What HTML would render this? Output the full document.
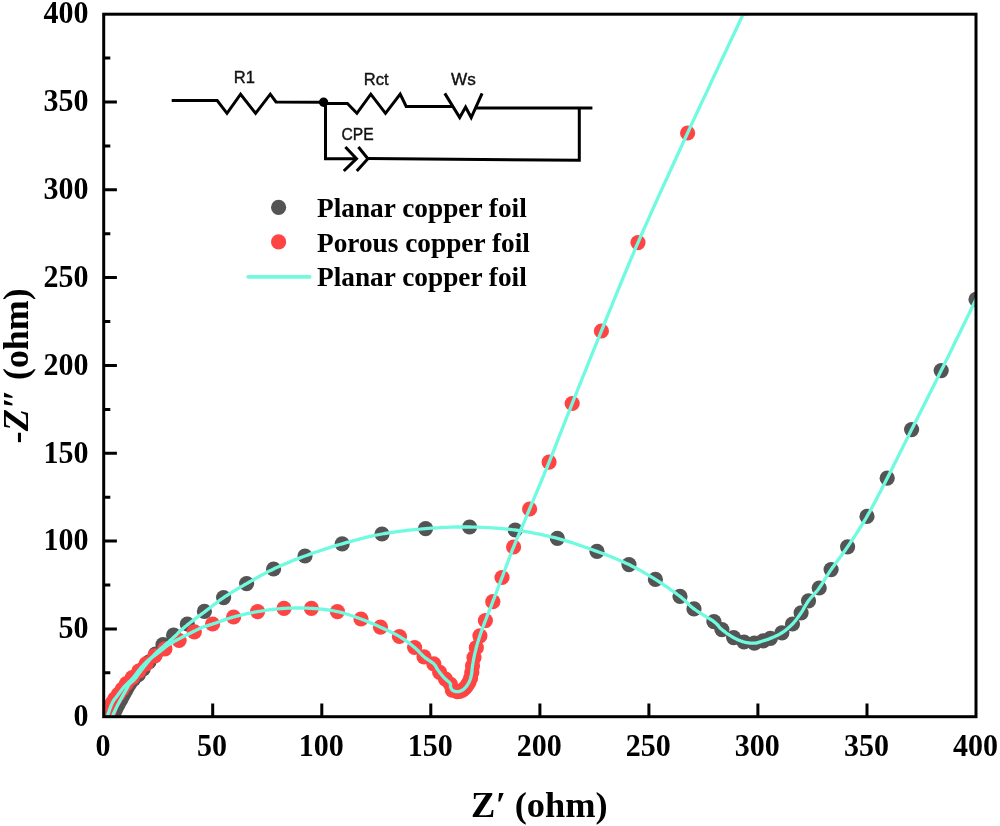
<!DOCTYPE html>
<html lang="en"><head><meta charset="utf-8"><title>Nyquist plot</title>
<style>html,body{margin:0;padding:0;background:#fff}svg{display:block}</style></head>
<body>
<svg width="1000" height="826" viewBox="0 0 1000 826">
<defs><clipPath id="pc"><rect x="103.7" y="14.2" width="872.3" height="702.5"/></clipPath></defs>
<rect width="1000" height="826" fill="#ffffff"/>
<g clip-path="url(#pc)">
<g fill="#545454"><circle cx="111.3" cy="718.5" r="7.6"/><circle cx="112.6" cy="715.8" r="7.6"/><circle cx="113.8" cy="713.1" r="7.6"/><circle cx="115.1" cy="710.3" r="7.6"/><circle cx="116.4" cy="707.6" r="7.6"/><circle cx="117.7" cy="704.9" r="7.6"/><circle cx="119.1" cy="702.3" r="7.6"/><circle cx="120.6" cy="699.7" r="7.6"/><circle cx="122.0" cy="697.0" r="7.6"/><circle cx="123.5" cy="694.3" r="7.6"/><circle cx="125.3" cy="691.2" r="7.6"/><circle cx="127.3" cy="687.6" r="7.6"/><circle cx="129.9" cy="683.4" r="7.6"/><circle cx="133.5" cy="679.1" r="7.6"/><circle cx="138.3" cy="674.7" r="7.6"/><circle cx="143.2" cy="668.8" r="7.6"/><circle cx="148.9" cy="662.0" r="7.6"/><circle cx="155.5" cy="654.1" r="7.6"/><circle cx="163.0" cy="644.7" r="7.6"/><circle cx="173.6" cy="635.2" r="7.6"/><circle cx="187.3" cy="624.0" r="7.6"/><circle cx="204.4" cy="611.4" r="7.6"/><circle cx="223.6" cy="597.6" r="7.6"/><circle cx="246.6" cy="583.6" r="7.6"/><circle cx="273.6" cy="569.0" r="7.6"/><circle cx="305.0" cy="556.0" r="7.6"/><circle cx="342.2" cy="543.8" r="7.6"/><circle cx="382.0" cy="534.0" r="7.6"/><circle cx="425.6" cy="528.6" r="7.6"/><circle cx="469.6" cy="527.0" r="7.6"/><circle cx="515.2" cy="530.0" r="7.6"/><circle cx="557.4" cy="538.4" r="7.6"/><circle cx="597.0" cy="551.4" r="7.6"/><circle cx="629.0" cy="564.6" r="7.6"/><circle cx="655.4" cy="579.4" r="7.6"/><circle cx="680.0" cy="596.4" r="7.6"/><circle cx="694.0" cy="608.9" r="7.6"/><circle cx="713.9" cy="621.6" r="7.6"/><circle cx="721.9" cy="629.6" r="7.6"/><circle cx="733.6" cy="637.6" r="7.6"/><circle cx="744.0" cy="642.0" r="7.6"/><circle cx="754.4" cy="643.2" r="7.6"/><circle cx="763.2" cy="640.8" r="7.6"/><circle cx="770.4" cy="638.4" r="7.6"/><circle cx="781.9" cy="632.8" r="7.6"/><circle cx="792.5" cy="624.0" r="7.6"/><circle cx="801.1" cy="612.8" r="7.6"/><circle cx="808.5" cy="600.8" r="7.6"/><circle cx="819.2" cy="588.0" r="7.6"/><circle cx="831.1" cy="569.6" r="7.6"/><circle cx="847.6" cy="546.8" r="7.6"/><circle cx="867.0" cy="516.4" r="7.6"/><circle cx="887.2" cy="478.2" r="7.6"/><circle cx="911.6" cy="429.6" r="7.6"/><circle cx="941.2" cy="370.6" r="7.6"/><circle cx="976.0" cy="299.4" r="7.6"/></g>
<g fill="#FF4444"><circle cx="106.1" cy="719.1" r="7.6"/><circle cx="107.1" cy="716.7" r="7.6"/><circle cx="108.2" cy="713.9" r="7.6"/><circle cx="109.3" cy="710.7" r="7.6"/><circle cx="110.5" cy="707.1" r="7.6"/><circle cx="112.2" cy="703.1" r="7.6"/><circle cx="114.9" cy="698.9" r="7.6"/><circle cx="118.3" cy="694.4" r="7.6"/><circle cx="122.1" cy="689.3" r="7.6"/><circle cx="126.5" cy="683.5" r="7.6"/><circle cx="132.3" cy="677.7" r="7.6"/><circle cx="138.8" cy="671.1" r="7.6"/><circle cx="146.1" cy="663.9" r="7.6"/><circle cx="154.8" cy="655.9" r="7.6"/><circle cx="164.9" cy="648.9" r="7.6"/><circle cx="179.1" cy="640.5" r="7.6"/><circle cx="194.3" cy="631.8" r="7.6"/><circle cx="212.6" cy="624.0" r="7.6"/><circle cx="233.6" cy="617.0" r="7.6"/><circle cx="257.6" cy="611.6" r="7.6"/><circle cx="284.0" cy="608.4" r="7.6"/><circle cx="311.4" cy="608.4" r="7.6"/><circle cx="337.4" cy="611.6" r="7.6"/><circle cx="361.0" cy="619.0" r="7.6"/><circle cx="380.5" cy="627.2" r="7.6"/><circle cx="399.4" cy="636.5" r="7.6"/><circle cx="414.6" cy="647.5" r="7.6"/><circle cx="424.0" cy="656.8" r="7.6"/><circle cx="433.8" cy="663.8" r="7.6"/><circle cx="439.7" cy="672.4" r="7.6"/><circle cx="445.5" cy="679.1" r="7.6"/><circle cx="450.5" cy="684.4" r="7.6"/><circle cx="452.3" cy="690.1" r="7.6"/><circle cx="457.2" cy="691.7" r="7.6"/><circle cx="459.6" cy="691.3" r="7.6"/><circle cx="462.5" cy="690.1" r="7.6"/><circle cx="465.0" cy="688.0" r="7.6"/><circle cx="467.0" cy="685.5" r="7.6"/><circle cx="468.9" cy="682.3" r="7.6"/><circle cx="470.6" cy="678.0" r="7.6"/><circle cx="471.8" cy="672.6" r="7.6"/><circle cx="472.5" cy="665.8" r="7.6"/><circle cx="474.0" cy="657.6" r="7.6"/><circle cx="476.3" cy="647.7" r="7.6"/><circle cx="479.9" cy="635.8" r="7.6"/><circle cx="485.4" cy="620.6" r="7.6"/><circle cx="492.8" cy="601.7" r="7.6"/><circle cx="502.0" cy="577.5" r="7.6"/><circle cx="513.6" cy="547.0" r="7.6"/><circle cx="529.6" cy="509.0" r="7.6"/><circle cx="549.1" cy="462.1" r="7.6"/><circle cx="572.2" cy="403.5" r="7.6"/><circle cx="601.4" cy="331.0" r="7.6"/><circle cx="638.0" cy="242.6" r="7.6"/><circle cx="687.6" cy="133.0" r="7.6"/><circle cx="746.0" cy="8.0" r="7.6"/></g>
<polyline points="109.7,722.0 109.9,721.5 110.2,721.0 110.4,720.5 110.6,720.0 110.9,719.4 111.1,718.9 111.4,718.4 111.6,717.9 111.8,717.4 112.1,716.9 112.3,716.4 112.5,715.9 112.8,715.4 113.0,714.9 113.2,714.4 113.4,714.0 113.6,713.6 113.8,713.1 114.0,712.7 114.2,712.3 114.4,711.9 114.5,711.6 114.7,711.2 114.9,710.8 115.0,710.4 115.2,710.1 115.4,709.7 115.5,709.4 115.7,709.0 115.9,708.7 116.0,708.3 116.2,708.0 116.4,707.7 116.5,707.3 116.7,707.0 116.8,706.7 117.0,706.4 117.1,706.2 117.3,705.9 117.4,705.6 117.5,705.3 117.7,705.0 117.8,704.7 118.0,704.4 118.2,704.1 118.3,703.8 118.5,703.5 118.7,703.1 118.9,702.7 119.1,702.4 119.3,702.0 119.5,701.6 119.7,701.2 120.0,700.7 120.2,700.3 120.4,699.9 120.7,699.5 120.9,699.0 121.1,698.6 121.4,698.2 121.6,697.8 121.8,697.3 122.1,696.9 122.3,696.5 122.5,696.1 122.8,695.7 123.0,695.3 123.2,694.9 123.5,694.4 123.7,694.0 123.9,693.6 124.2,693.2 124.4,692.8 124.6,692.4 124.9,692.0 125.1,691.6 125.3,691.2 125.5,690.8 125.8,690.4 126.0,690.0 126.2,689.6 126.4,689.2 126.6,688.8 126.9,688.4 127.1,688.0 127.3,687.6 127.5,687.3 127.7,686.9 127.9,686.5 128.1,686.1 128.3,685.7 128.5,685.4 128.8,685.0 129.0,684.7 129.2,684.3 129.5,684.0 129.8,683.7 130.0,683.4 130.3,683.1 130.6,682.9 130.9,682.7 131.2,682.4 131.5,682.2 131.8,682.0 132.1,681.7 132.4,681.5 132.7,681.2 133.0,681.0 133.4,680.7 133.7,680.3 134.0,680.0 134.4,679.6 134.8,679.2 135.1,678.7 135.5,678.2 135.9,677.7 136.3,677.2 136.7,676.7 137.1,676.1 137.5,675.5 137.9,675.0 138.3,674.4 138.8,673.8 139.2,673.2 139.6,672.6 140.0,672.0 140.5,671.5 140.9,670.9 141.3,670.3 141.8,669.8 142.2,669.2 142.6,668.6 143.1,668.1 143.5,667.5 144.0,666.9 144.4,666.3 144.9,665.8 145.3,665.2 145.8,664.6 146.2,664.1 146.7,663.5 147.1,663.0 147.6,662.4 148.0,661.9 148.4,661.4 148.9,660.9 149.3,660.4 149.7,659.9 150.1,659.4 150.5,658.9 150.9,658.4 151.3,657.9 151.8,657.4 152.2,657.0 152.6,656.5 153.0,656.0 153.4,655.6 153.8,655.2 154.2,654.7 154.6,654.3 155.0,653.9 155.4,653.5 155.8,653.1 156.2,652.7 156.6,652.3 157.0,651.9 157.4,651.6 157.8,651.2 158.2,650.8 158.6,650.5 159.0,650.1 159.4,649.8 159.8,649.4 160.2,649.1 160.6,648.7 161.0,648.4 161.4,648.1 161.8,647.7 162.1,647.4 162.5,647.1 162.9,646.8 163.2,646.5 163.6,646.2 163.9,645.8 164.3,645.5 164.7,645.2 165.0,644.9 165.4,644.6 165.8,644.3 166.2,643.9 166.6,643.6 167.0,643.2 167.4,642.8 167.9,642.4 168.3,642.1 168.8,641.7 169.2,641.3 169.7,640.8 170.2,640.4 170.7,640.0 171.2,639.6 171.7,639.2 172.1,638.7 172.6,638.3 173.1,637.9 173.6,637.4 174.0,637.0 174.5,636.6 174.9,636.2 175.4,635.8 175.8,635.4 176.2,635.0 176.6,634.6 176.9,634.2 177.3,633.8 177.7,633.4 178.1,633.0 178.5,632.5 179.0,632.1 179.4,631.7 179.9,631.2 180.4,630.7 181.0,630.2 181.6,629.7 182.2,629.1 182.9,628.6 183.7,627.9 184.4,627.3 185.2,626.6 186.0,626.0 186.9,625.3 187.7,624.6 188.6,623.9 189.4,623.2 190.3,622.5 191.1,621.9 192.0,621.2 192.8,620.6 193.6,620.0 194.3,619.4 195.0,618.9 195.7,618.3 196.3,617.9 196.9,617.4 197.5,617.0 198.1,616.6 198.7,616.1 199.3,615.7 199.9,615.3 200.5,614.9 201.1,614.4 201.8,613.9 202.5,613.4 203.3,612.9 204.1,612.3 205.0,611.6 205.9,610.9 206.9,610.1 207.9,609.4 209.0,608.5 210.1,607.7 211.2,606.8 212.4,605.9 213.5,605.0 214.7,604.1 216.0,603.1 217.2,602.2 218.5,601.2 219.7,600.3 221.0,599.4 222.3,598.5 223.6,597.6 224.9,596.7 226.2,595.9 227.6,595.0 228.9,594.1 230.3,593.2 231.7,592.4 233.1,591.5 234.6,590.6 236.0,589.8 237.5,588.9 239.0,588.0 240.5,587.1 242.0,586.3 243.5,585.4 245.0,584.5 246.6,583.6 248.2,582.7 249.8,581.8 251.4,580.9 253.0,580.0 254.6,579.0 256.2,578.1 257.9,577.2 259.6,576.2 261.3,575.3 263.0,574.4 264.7,573.5 266.4,572.6 268.2,571.6 270.0,570.8 271.8,569.9 273.6,569.0 275.4,568.1 277.3,567.3 279.1,566.5 281.0,565.6 282.9,564.8 284.8,564.0 286.7,563.2 288.7,562.4 290.6,561.5 292.6,560.7 294.6,559.9 296.6,559.2 298.7,558.4 300.8,557.6 302.9,556.8 305.0,556.0 307.2,555.2 309.4,554.4 311.6,553.6 313.8,552.8 316.1,552.0 318.4,551.3 320.7,550.5 323.1,549.7 325.4,548.9 327.8,548.2 330.2,547.4 332.6,546.7 335.0,545.9 337.4,545.2 339.8,544.5 342.2,543.8 344.6,543.1 347.0,542.4 349.4,541.8 351.9,541.1 354.3,540.4 356.8,539.8 359.2,539.1 361.7,538.5 364.2,537.9 366.7,537.2 369.2,536.7 371.7,536.1 374.3,535.5 376.8,535.0 379.4,534.5 382.0,534.0 384.6,533.5 387.3,533.1 389.9,532.7 392.6,532.3 395.3,531.9 398.1,531.5 400.8,531.1 403.5,530.8 406.3,530.5 409.1,530.2 411.8,529.9 414.6,529.6 417.3,529.3 420.1,529.1 422.9,528.8 425.6,528.6 428.3,528.4 431.1,528.2 433.8,528.0 436.5,527.8 439.3,527.7 442.0,527.5 444.7,527.4 447.5,527.3 450.2,527.2 453.0,527.1 455.7,527.0 458.5,527.0 461.2,527.0 464.0,527.0 466.8,527.0 469.6,527.0 472.4,527.1 475.2,527.1 478.1,527.2 481.0,527.3 483.8,527.4 486.7,527.6 489.6,527.7 492.5,527.9 495.4,528.1 498.3,528.3 501.1,528.5 504.0,528.8 506.8,529.0 509.7,529.3 512.4,529.7 515.2,530.0 517.9,530.4 520.7,530.8 523.4,531.2 526.1,531.6 528.7,532.1 531.4,532.6 534.0,533.1 536.7,533.6 539.3,534.1 541.9,534.7 544.5,535.3 547.1,535.9 549.7,536.5 552.3,537.1 554.8,537.7 557.4,538.4 560.0,539.1 562.5,539.8 565.1,540.5 567.7,541.3 570.2,542.1 572.8,542.9 575.3,543.8 577.8,544.6 580.3,545.5 582.8,546.3 585.3,547.2 587.7,548.0 590.1,548.9 592.4,549.7 594.7,550.6 597.0,551.4 599.2,552.2 601.4,553.0 603.6,553.8 605.7,554.6 607.7,555.5 609.8,556.3 611.8,557.1 613.8,557.9 615.8,558.7 617.7,559.5 619.7,560.4 621.6,561.2 623.5,562.0 625.3,562.9 627.2,563.7 629.0,564.6 630.8,565.5 632.6,566.4 634.3,567.2 636.0,568.1 637.7,569.0 639.4,569.9 641.0,570.8 642.7,571.8 644.3,572.7 645.9,573.6 647.5,574.6 649.1,575.5 650.6,576.5 652.2,577.4 653.8,578.4 655.4,579.4 657.0,580.4 658.6,581.5 660.3,582.5 661.9,583.6 663.6,584.7 665.2,585.8 666.9,586.9 668.5,588.0 670.1,589.2 671.6,590.3 673.2,591.3 674.6,592.4 676.1,593.5 677.4,594.5 678.8,595.5 680.0,596.4 681.2,597.3 682.2,598.2 683.2,599.0 684.1,599.8 685.0,600.6 685.8,601.4 686.5,602.2 687.3,602.9 688.0,603.7 688.8,604.4 689.5,605.1 690.3,605.9 691.2,606.6 692.0,607.4 693.0,608.1 694.0,608.9 695.1,609.7 696.3,610.5 697.5,611.3 698.8,612.2 700.2,613.0 701.6,613.9 702.9,614.7 704.3,615.5 705.7,616.4 707.0,617.2 708.4,618.0 709.6,618.8 710.8,619.5 711.9,620.2 713.0,620.9 713.9,621.6 714.7,622.2 715.4,622.8 716.1,623.4 716.6,623.9 717.2,624.4 717.6,624.9 718.0,625.4 718.4,625.9 718.8,626.4 719.2,626.8 719.5,627.3 719.9,627.7 720.3,628.2 720.8,628.6 721.3,629.1 721.9,629.6 722.5,630.1 723.2,630.6 723.9,631.2 724.6,631.7 725.3,632.2 726.1,632.8 726.8,633.3 727.6,633.8 728.4,634.3 729.1,634.9 729.9,635.4 730.7,635.9 731.4,636.3 732.2,636.8 732.9,637.2 733.6,637.6 734.3,638.0 735.0,638.3 735.6,638.7 736.3,639.0 736.9,639.3 737.6,639.7 738.2,639.9 738.9,640.2 739.5,640.5 740.2,640.7 740.8,641.0 741.4,641.2 742.1,641.4 742.7,641.6 743.4,641.8 744.0,642.0 744.7,642.2 745.3,642.3 746.0,642.5 746.6,642.6 747.3,642.7 748.0,642.8 748.6,642.9 749.3,643.0 750.0,643.1 750.6,643.2 751.3,643.2 751.9,643.2 752.5,643.2 753.2,643.2 753.8,643.2 754.4,643.2 755.0,643.1 755.6,643.1 756.2,643.0 756.8,642.9 757.3,642.7 757.9,642.6 758.4,642.4 759.0,642.2 759.5,642.0 760.1,641.9 760.6,641.7 761.1,641.5 761.7,641.3 762.2,641.1 762.7,641.0 763.2,640.8 763.7,640.7 764.1,640.5 764.6,640.4 765.0,640.3 765.4,640.2 765.8,640.0 766.2,639.9 766.6,639.8 767.0,639.7 767.5,639.5 767.9,639.4 768.3,639.2 768.8,639.0 769.3,638.9 769.8,638.6 770.4,638.4 771.0,638.1 771.6,637.9 772.3,637.6 773.0,637.3 773.7,637.0 774.4,636.7 775.2,636.3 775.9,636.0 776.7,635.6 777.5,635.3 778.2,634.9 779.0,634.5 779.7,634.1 780.5,633.7 781.2,633.2 781.9,632.8 782.6,632.3 783.3,631.9 784.0,631.4 784.7,630.9 785.3,630.4 786.0,629.8 786.7,629.3 787.4,628.7 788.0,628.2 788.7,627.6 789.4,627.0 790.0,626.4 790.6,625.8 791.3,625.2 791.9,624.6 792.5,624.0 793.1,623.4 793.7,622.7 794.3,622.1 794.8,621.4 795.4,620.7 795.9,620.0 796.5,619.3 797.0,618.6 797.5,617.9 798.1,617.2 798.6,616.4 799.1,615.7 799.6,615.0 800.1,614.3 800.6,613.5 801.1,612.8 801.6,612.1 802.1,611.3 802.5,610.6 803.0,609.9 803.4,609.1 803.8,608.4 804.2,607.6 804.7,606.9 805.1,606.1 805.5,605.4 806.0,604.6 806.4,603.9 806.9,603.1 807.4,602.3 807.9,601.6 808.5,600.8 809.1,600.0 809.7,599.3 810.3,598.5 810.9,597.8 811.6,597.0 812.2,596.3 812.9,595.6 813.6,594.8 814.3,594.0 815.0,593.2 815.7,592.4 816.4,591.6 817.1,590.8 817.8,589.9 818.5,589.0 819.2,588.0 819.9,587.0 820.6,586.0 821.3,585.0 822.0,583.9 822.7,582.8 823.4,581.7 824.1,580.6 824.8,579.4 825.5,578.3 826.2,577.1 827.0,575.9 827.8,574.6 828.6,573.4 829.4,572.1 830.2,570.9 831.1,569.6 832.0,568.3 832.9,567.0 833.9,565.7 834.8,564.4 835.8,563.1 836.8,561.7 837.8,560.3 838.9,559.0 839.9,557.5 841.0,556.1 842.1,554.6 843.2,553.1 844.3,551.6 845.4,550.0 846.5,548.4 847.6,546.8 848.7,545.1 849.9,543.4 851.0,541.7 852.2,539.9 853.4,538.1 854.6,536.3 855.8,534.4 857.1,532.6 858.3,530.6 859.5,528.7 860.8,526.7 862.0,524.7 863.3,522.7 864.5,520.6 865.8,518.5 867.0,516.4 868.2,514.2 869.5,512.1 870.7,509.9 871.9,507.6 873.1,505.4 874.3,503.1 875.6,500.8 876.8,498.4 878.0,496.1 879.3,493.6 880.6,491.2 881.8,488.7 883.1,486.1 884.5,483.5 885.8,480.9 887.2,478.2 888.6,475.5 890.0,472.7 891.4,469.9 892.9,467.0 894.3,464.1 895.8,461.2 897.3,458.2 898.8,455.2 900.3,452.1 901.9,449.0 903.4,445.9 905.0,442.7 906.6,439.5 908.3,436.2 909.9,432.9 911.6,429.6 913.3,426.2 915.0,422.8 916.8,419.4 918.5,415.9 920.3,412.3 922.1,408.8 923.9,405.2 925.8,401.5 927.6,397.8 929.5,394.1 931.4,390.3 933.3,386.5 935.3,382.6 937.2,378.6 939.2,374.6 941.2,370.6 943.3,366.4 945.4,362.1 947.6,357.7 949.8,353.1 952.1,348.5 954.3,343.8 956.6,339.1 959.0,334.4 961.2,329.7 963.5,325.0 965.7,320.4 967.9,316.0 970.1,311.6 972.1,307.3 974.1,303.3 976.0,299.4 977.8,295.7 979.5,292.2 981.2,288.8 982.8,285.5 984.3,282.4 985.8,279.3 987.2,276.3 988.7,273.3 990.1,270.4 991.5,267.6 992.9,264.7 994.3,261.8 995.7,259.0 997.1,256.0 998.5,253.0 1000.0,250.0" fill="none" stroke="#70FAE0" stroke-width="3.3" stroke-linejoin="round"/>
<polyline points="104.9,722.0 105.1,721.6 105.2,721.3 105.3,721.0 105.5,720.7 105.6,720.4 105.7,720.1 105.9,719.7 106.0,719.4 106.1,719.1 106.3,718.8 106.4,718.4 106.6,718.0 106.8,717.6 107.0,717.1 107.2,716.6 107.4,716.0 107.6,715.4 107.9,714.7 108.2,713.9 108.4,713.1 108.7,712.3 109.0,711.4 109.3,710.5 109.6,709.6 110.0,708.7 110.3,707.8 110.6,706.9 110.9,706.1 111.2,705.3 111.6,704.5 111.9,703.8 112.2,703.1 112.5,702.5 112.8,701.9 113.1,701.4 113.4,700.9 113.7,700.5 114.0,700.0 114.3,699.6 114.6,699.2 114.9,698.8 115.2,698.4 115.5,698.0 115.9,697.6 116.2,697.2 116.6,696.8 116.9,696.3 117.3,695.8 117.7,695.3 118.1,694.7 118.5,694.1 118.9,693.6 119.4,693.0 119.8,692.4 120.3,691.8 120.7,691.1 121.2,690.5 121.6,689.9 122.1,689.3 122.6,688.7 123.1,688.1 123.5,687.5 124.0,687.0 124.5,686.4 125.0,685.9 125.5,685.3 126.0,684.8 126.5,684.3 127.0,683.8 127.5,683.3 128.0,682.8 128.5,682.4 129.0,681.9 129.5,681.4 130.1,680.9 130.6,680.4 131.1,679.9 131.5,679.4 132.0,678.9 132.5,678.4 133.0,677.9 133.4,677.3 133.9,676.8 134.3,676.2 134.7,675.7 135.1,675.1 135.6,674.6 136.0,674.0 136.4,673.5 136.8,672.9 137.2,672.3 137.6,671.8 138.1,671.2 138.5,670.7 138.9,670.1 139.4,669.6 139.9,669.1 140.3,668.5 140.8,668.0 141.3,667.4 141.7,666.9 142.2,666.3 142.7,665.8 143.2,665.2 143.7,664.7 144.2,664.1 144.7,663.6 145.1,663.1 145.6,662.6 146.1,662.1 146.6,661.7 147.1,661.2 147.6,660.8 148.1,660.3 148.6,659.9 149.1,659.5 149.6,659.2 150.1,658.8 150.6,658.4 151.1,658.1 151.6,657.7 152.1,657.4 152.6,657.0 153.1,656.7 153.6,656.3 154.0,656.0 154.5,655.7 155.0,655.3 155.5,654.9 155.9,654.6 156.4,654.2 156.9,653.9 157.3,653.5 157.8,653.2 158.3,652.8 158.7,652.5 159.2,652.1 159.6,651.8 160.1,651.4 160.5,651.1 160.9,650.8 161.4,650.4 161.8,650.1 162.2,649.8 162.6,649.5 163.0,649.2 163.3,648.9 163.7,648.6 164.0,648.3 164.3,648.0 164.6,647.8 165.0,647.5 165.3,647.2 165.6,647.0 166.0,646.7 166.3,646.4 166.7,646.1 167.1,645.8 167.5,645.5 168.0,645.2 168.5,644.9 169.0,644.6 169.5,644.2 170.0,643.9 170.6,643.6 171.2,643.2 171.7,642.9 172.3,642.5 172.9,642.2 173.5,641.8 174.2,641.5 174.8,641.1 175.4,640.8 176.1,640.4 176.7,640.1 177.4,639.7 178.1,639.3 178.8,639.0 179.5,638.6 180.2,638.2 180.9,637.9 181.6,637.5 182.4,637.1 183.1,636.7 183.9,636.3 184.7,636.0 185.4,635.6 186.2,635.2 187.0,634.8 187.7,634.4 188.5,634.1 189.2,633.7 189.9,633.3 190.7,633.0 191.4,632.6 192.2,632.2 192.9,631.8 193.6,631.4 194.4,631.0 195.1,630.7 195.9,630.3 196.6,629.9 197.3,629.6 198.1,629.2 198.8,628.9 199.5,628.5 200.3,628.2 201.0,627.9 201.7,627.6 202.4,627.3 203.1,627.1 203.7,626.9 204.3,626.6 205.0,626.4 205.6,626.2 206.2,626.0 206.9,625.8 207.6,625.6 208.3,625.4 209.0,625.1 209.8,624.9 210.7,624.6 211.6,624.3 212.6,624.0 213.6,623.6 214.8,623.3 215.9,622.9 217.1,622.4 218.4,622.0 219.7,621.5 221.0,621.1 222.3,620.6 223.7,620.1 225.1,619.6 226.5,619.2 227.9,618.7 229.3,618.3 230.8,617.8 232.2,617.4 233.6,617.0 235.0,616.6 236.4,616.2 237.9,615.9 239.3,615.5 240.8,615.1 242.3,614.8 243.8,614.4 245.3,614.1 246.8,613.7 248.3,613.4 249.8,613.1 251.4,612.8 252.9,612.5 254.5,612.2 256.0,611.9 257.6,611.6 259.2,611.3 260.8,611.1 262.4,610.8 264.0,610.6 265.6,610.3 267.3,610.1 268.9,609.9 270.6,609.7 272.3,609.5 273.9,609.3 275.6,609.1 277.3,608.9 279.0,608.8 280.6,608.6 282.3,608.5 284.0,608.4 285.7,608.3 287.4,608.2 289.1,608.2 290.8,608.1 292.5,608.1 294.3,608.0 296.0,608.0 297.7,608.0 299.5,608.0 301.2,608.0 302.9,608.1 304.6,608.1 306.3,608.2 308.0,608.2 309.7,608.3 311.4,608.4 313.1,608.5 314.7,608.6 316.4,608.7 318.1,608.9 319.7,609.0 321.4,609.2 323.0,609.4 324.6,609.5 326.3,609.7 327.9,610.0 329.5,610.2 331.1,610.4 332.7,610.7 334.3,611.0 335.8,611.3 337.4,611.6 338.9,611.9 340.5,612.3 342.0,612.7 343.6,613.1 345.1,613.6 346.6,614.0 348.1,614.5 349.6,615.0 351.1,615.5 352.6,616.0 354.0,616.5 355.4,617.0 356.9,617.5 358.3,618.0 359.6,618.5 361.0,619.0 362.3,619.5 363.6,620.0 364.9,620.5 366.2,621.0 367.4,621.5 368.6,622.0 369.8,622.5 371.0,623.0 372.2,623.5 373.4,624.0 374.6,624.5 375.8,625.1 376.9,625.6 378.1,626.1 379.3,626.7 380.5,627.2 381.7,627.7 382.9,628.3 384.1,628.9 385.4,629.4 386.6,630.0 387.8,630.5 389.0,631.1 390.2,631.7 391.4,632.3 392.6,632.8 393.8,633.4 394.9,634.0 396.1,634.6 397.2,635.2 398.3,635.9 399.4,636.5 400.5,637.1 401.5,637.8 402.6,638.5 403.6,639.2 404.6,639.9 405.6,640.6 406.6,641.3 407.6,642.0 408.6,642.7 409.5,643.4 410.4,644.1 411.3,644.8 412.2,645.5 413.0,646.2 413.8,646.9 414.6,647.5 415.3,648.1 416.0,648.8 416.7,649.4 417.3,650.0 418.0,650.6 418.5,651.2 419.1,651.8 419.6,652.4 420.2,653.0 420.7,653.6 421.2,654.1 421.8,654.7 422.3,655.2 422.8,655.8 423.4,656.3 424.0,656.8 424.6,657.3 425.2,657.8 425.9,658.3 426.6,658.7 427.2,659.2 427.9,659.6 428.6,660.1 429.2,660.5 429.9,660.9 430.5,661.4 431.2,661.8 431.8,662.2 432.3,662.6 432.9,663.0 433.4,663.4 433.8,663.8 434.2,664.2 434.5,664.6 434.8,664.9 435.1,665.3 435.3,665.6 435.6,666.0 435.7,666.3 435.9,666.6 436.1,667.0 436.2,667.3 436.4,667.7 436.6,668.0 436.8,668.4 437.0,668.8 437.3,669.2 437.6,669.6 437.9,670.0 438.3,670.5 438.6,671.0 439.0,671.5 439.4,672.0 439.8,672.5 440.2,673.1 440.7,673.6 441.1,674.1 441.5,674.7 441.9,675.2 442.4,675.7 442.8,676.2 443.2,676.7 443.6,677.2 444.0,677.6 444.4,678.0 444.8,678.4 445.2,678.8 445.7,679.2 446.1,679.6 446.5,679.9 446.9,680.3 447.4,680.6 447.8,681.0 448.2,681.3 448.5,681.6 448.9,682.0 449.2,682.3 449.5,682.6 449.8,682.9 450.0,683.2 450.2,683.5 450.3,683.8 450.4,684.1 450.5,684.3 450.5,684.6 450.6,684.9 450.6,685.1 450.5,685.4 450.5,685.6 450.5,685.8 450.5,686.1 450.5,686.3 450.5,686.5 450.5,686.7 450.5,687.0 450.6,687.2 450.7,687.4 450.8,687.7 450.9,687.9 451.0,688.1 451.1,688.3 451.2,688.5 451.3,688.8 451.4,689.0 451.6,689.2 451.7,689.4 451.9,689.6 452.0,689.8 452.2,689.9 452.4,690.1 452.6,690.3 452.8,690.4 453.0,690.5 453.3,690.7 453.5,690.8 453.8,690.9 454.1,691.1 454.4,691.2 454.7,691.3 455.0,691.4 455.3,691.5 455.6,691.5 456.0,691.6 456.3,691.7 456.6,691.7 456.9,691.7 457.3,691.7 457.6,691.7 457.9,691.7 458.3,691.6 458.6,691.6 459.0,691.5 459.3,691.4 459.7,691.3 460.0,691.2 460.4,691.1 460.8,690.9 461.1,690.8 461.5,690.6 461.8,690.5 462.2,690.3 462.5,690.1 462.9,689.8 463.2,689.6 463.5,689.4 463.8,689.1 464.2,688.8 464.5,688.5 464.8,688.2 465.1,687.9 465.4,687.5 465.7,687.2 466.1,686.8 466.4,686.4 466.6,686.0 466.9,685.7 467.2,685.2 467.5,684.8 467.7,684.4 468.0,684.0 468.2,683.6 468.5,683.1 468.7,682.7 468.9,682.3 469.2,681.8 469.4,681.4 469.6,680.9 469.8,680.5 470.0,680.0 470.2,679.5 470.4,678.9 470.5,678.4 470.7,677.8 470.9,677.2 471.0,676.6 471.2,676.0 471.3,675.3 471.5,674.6 471.6,673.9 471.7,673.2 471.8,672.4 471.9,671.6 472.0,670.8 472.1,670.0 472.1,669.2 472.2,668.3 472.3,667.5 472.4,666.6 472.5,665.8 472.6,664.9 472.8,664.1 472.9,663.2 473.1,662.3 473.2,661.5 473.4,660.6 473.6,659.7 473.7,658.8 473.9,657.9 474.1,656.9 474.3,656.0 474.5,655.1 474.7,654.2 474.9,653.3 475.1,652.3 475.3,651.4 475.6,650.5 475.8,649.7 476.0,648.8 476.2,648.0 476.4,647.1 476.7,646.3 476.9,645.5 477.1,644.7 477.3,643.9 477.6,643.1 477.8,642.3 478.0,641.6 478.3,640.8 478.5,640.0 478.8,639.2 479.1,638.4 479.3,637.5 479.6,636.7 479.9,635.8 480.2,634.9 480.5,634.0 480.8,633.1 481.1,632.2 481.4,631.3 481.8,630.4 482.1,629.5 482.4,628.6 482.8,627.6 483.1,626.7 483.5,625.7 483.9,624.7 484.2,623.7 484.6,622.7 485.0,621.7 485.4,620.6 485.8,619.5 486.2,618.5 486.6,617.4 487.1,616.3 487.5,615.1 488.0,614.0 488.4,612.9 488.9,611.7 489.3,610.5 489.8,609.3 490.3,608.1 490.8,606.9 491.3,605.6 491.8,604.3 492.3,603.0 492.8,601.7 493.3,600.3 493.8,599.0 494.4,597.6 494.9,596.2 495.5,594.7 496.0,593.3 496.6,591.8 497.1,590.3 497.7,588.8 498.3,587.3 498.9,585.7 499.5,584.1 500.1,582.5 500.7,580.9 501.4,579.2 502.0,577.5 502.7,575.8 503.3,574.0 504.0,572.3 504.6,570.5 505.3,568.7 506.0,566.9 506.7,565.0 507.4,563.1 508.1,561.2 508.8,559.3 509.6,557.3 510.3,555.3 511.1,553.3 511.9,551.2 512.7,549.1 513.6,547.0 514.5,544.8 515.4,542.7 516.3,540.5 517.2,538.2 518.2,536.0 519.1,533.7 520.1,531.4 521.1,529.0 522.1,526.6 523.2,524.2 524.2,521.8 525.3,519.3 526.3,516.8 527.4,514.2 528.5,511.6 529.6,509.0 530.7,506.3 531.8,503.6 533.0,500.9 534.1,498.2 535.3,495.4 536.5,492.6 537.7,489.7 538.9,486.8 540.1,483.9 541.4,480.9 542.6,477.9 543.9,474.9 545.2,471.7 546.5,468.6 547.8,465.4 549.1,462.1 550.4,458.8 551.8,455.4 553.1,452.0 554.5,448.6 555.8,445.1 557.2,441.6 558.6,438.0 560.0,434.4 561.5,430.7 562.9,427.0 564.4,423.2 565.9,419.4 567.4,415.5 569.0,411.6 570.6,407.6 572.2,403.5 573.8,399.4 575.5,395.2 577.2,391.0 578.9,386.7 580.6,382.4 582.4,378.0 584.2,373.6 586.0,369.1 587.8,364.6 589.6,360.0 591.5,355.3 593.4,350.6 595.4,345.8 597.4,340.9 599.4,336.0 601.4,331.0 603.5,326.0 605.5,320.9 607.6,315.7 609.7,310.5 611.9,305.3 614.0,299.9 616.2,294.6 618.4,289.1 620.7,283.6 623.0,278.0 625.4,272.3 627.8,266.6 630.2,260.7 632.8,254.8 635.3,248.7 638.0,242.6 640.7,236.4 643.5,230.0 646.4,223.6 649.3,217.1 652.2,210.4 655.3,203.7 658.3,196.9 661.4,190.1 664.6,183.2 667.8,176.2 671.0,169.1 674.3,162.0 677.6,154.8 680.9,147.6 684.2,140.3 687.6,133.0 691.1,125.4 694.8,117.4 698.7,109.0 702.7,100.4 706.9,91.6 711.0,82.6 715.2,73.7 719.3,64.9 723.4,56.2 727.3,47.9 731.1,39.8 734.7,32.2 738.0,25.2 741.0,18.7 743.7,13.0 746.0,8.0 747.9,3.9 749.5,0.5 750.7,-2.2 751.7,-4.4 752.5,-6.0 753.0,-7.2 753.4,-8.0 753.6,-8.6 753.7,-8.9 753.8,-9.1 753.8,-9.3 753.9,-9.5 754.0,-9.7 754.2,-10.2 754.5,-10.9 755.0,-12.0" fill="none" stroke="#70FAE0" stroke-width="3.3" stroke-linejoin="round"/>
</g>
<rect x="103.7" y="14.2" width="872.3" height="702.5" fill="none" stroke="#000" stroke-width="3.0"/>
<path d="M212.7 716.7 v-13.2 M103.7 628.9 h13.2 M321.8 716.7 v-13.2 M103.7 541.1 h13.2 M430.8 716.7 v-13.2 M103.7 453.3 h13.2 M539.9 716.7 v-13.2 M103.7 365.5 h13.2 M648.9 716.7 v-13.2 M103.7 277.6 h13.2 M757.9 716.7 v-13.2 M103.7 189.8 h13.2 M867.0 716.7 v-13.2 M103.7 102.0 h13.2 M103.7 672.8 h6.6 M103.7 585.0 h6.6 M103.7 497.2 h6.6 M103.7 409.4 h6.6 M103.7 321.5 h6.6 M103.7 233.7 h6.6 M103.7 145.9 h6.6 M103.7 58.1 h6.6" stroke="#000" stroke-width="3.0" fill="none"/>
<g font-family="'Liberation Serif', 'Times New Roman', serif" font-weight="bold" font-size="30" fill="#000">
<text transform="translate(103.1 756) scale(1 1.06)" text-anchor="middle">0</text>
<text transform="translate(212.1 756) scale(1 1.06)" text-anchor="middle">50</text>
<text transform="translate(321.2 756) scale(1 1.06)" text-anchor="middle">100</text>
<text transform="translate(430.2 756) scale(1 1.06)" text-anchor="middle">150</text>
<text transform="translate(539.2 756) scale(1 1.06)" text-anchor="middle">200</text>
<text transform="translate(648.3 756) scale(1 1.06)" text-anchor="middle">250</text>
<text transform="translate(757.3 756) scale(1 1.06)" text-anchor="middle">300</text>
<text transform="translate(866.4 756) scale(1 1.06)" text-anchor="middle">350</text>
<text transform="translate(975.4 756) scale(1 1.06)" text-anchor="middle">400</text>
<text transform="translate(88.4 725.9) scale(1 1.08)" text-anchor="end">0</text>
<text transform="translate(88.4 638.1) scale(1 1.08)" text-anchor="end">50</text>
<text transform="translate(88.4 550.3) scale(1 1.08)" text-anchor="end">100</text>
<text transform="translate(88.4 462.5) scale(1 1.08)" text-anchor="end">150</text>
<text transform="translate(88.4 374.7) scale(1 1.08)" text-anchor="end">200</text>
<text transform="translate(88.4 286.8) scale(1 1.08)" text-anchor="end">250</text>
<text transform="translate(88.4 199.0) scale(1 1.08)" text-anchor="end">300</text>
<text transform="translate(88.4 111.2) scale(1 1.08)" text-anchor="end">350</text>
<text transform="translate(88.4 23.4) scale(1 1.08)" text-anchor="end">400</text>
</g>
<text x="539.4" y="816.5" text-anchor="middle" font-family="'Liberation Serif', serif" font-weight="bold" font-size="36.4" fill="#000">Z<tspan font-style="italic">′</tspan> (ohm)</text>
<text transform="translate(27.8 365.9) rotate(-90)" text-anchor="middle" font-family="'Liberation Serif', serif" font-weight="bold" font-size="36.4" fill="#000">-<tspan font-style="italic">Z″</tspan><tspan font-size="35.9"> (ohm)</tspan></text>
<circle cx="278.6" cy="207.3" r="7.6" fill="#545454"/>
<circle cx="278.6" cy="241.9" r="7.6" fill="#FF4444"/>
<line x1="248.2" y1="276.8" x2="309.7" y2="276.8" stroke="#70FAE0" stroke-width="3.7" stroke-linecap="round"/>
<g font-family="'Liberation Serif', serif" font-weight="bold" font-size="27.3" fill="#000">
<text x="317" y="217.1">Planar copper foil</text>
<text x="317" y="252">Porous copper foil</text>
<text x="317" y="285.9">Planar copper foil</text>
</g>
<g fill="none" stroke="#000" stroke-width="3" stroke-linejoin="miter" stroke-linecap="butt">
<path d="M171.7 100.6 H217.2 L227 113.3 L240.6 94.2 L255.6 113.3 L270.3 94.2 L276 101.9 L323.6 102.2"/>
<path d="M323.6 103.5 H347.4 L356.9 113.3 L370.8 94.2 L385.5 113.3 L400.2 94.2 L406.2 106.4 H452"/>
<path d="M444.8 93.4 L459.7 117.5 L465.6 107 L471.2 117.5 L482.1 93.4"/>
<path d="M476 108 H592.4"/>
<path d="M579.3 108 V160.2 L367.9 158.6"/>
<path d="M325.5 102 V158.7 H356.4"/>
<path d="M345.4 147 L356.5 158.7 L343.8 171"/>
<path d="M358.4 147 L367.9 158.7 L356.8 171"/>
</g>
<circle cx="323.6" cy="102.2" r="4.7" fill="#000"/>
<g font-family="'Liberation Sans', Arial, sans-serif" font-size="16.5" fill="#111" stroke="#111" stroke-width="0.4" text-anchor="middle">
<text transform="translate(244.3 83.3) scale(1 1)">R1</text>
<text transform="translate(376.1 85.2) scale(1 1)">Rct</text>
<text transform="translate(463.4 85.2) scale(1.04 1)">Ws</text>
<text transform="translate(357.5 139.9) scale(0.95 1)">CPE</text>
</g>
</svg>
</body></html>
